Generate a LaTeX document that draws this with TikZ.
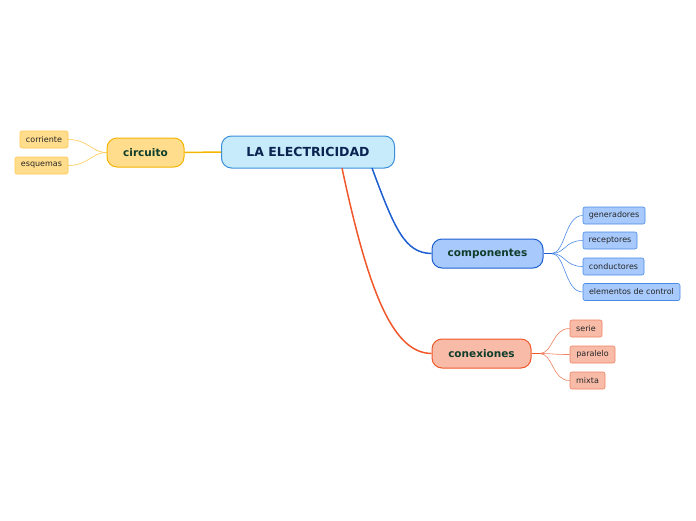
\documentclass[tikz,border=0pt]{standalone}
\usepackage{fontspec}
\setmainfont{DejaVu Sans}
\definecolor{rootF}{HTML}{C7EBFB}\definecolor{rootB}{HTML}{3B8FD9}\definecolor{rootT}{HTML}{0B2350}
\definecolor{yF}{HTML}{FFDD8C}\definecolor{yB}{HTML}{F5B400}\definecolor{yL}{HTML}{FFC850}
\definecolor{bF}{HTML}{A7C9FC}\definecolor{bB}{HTML}{1D5FD0}\definecolor{bL}{HTML}{4A8AE8}
\definecolor{oF}{HTML}{F8BBA8}\definecolor{oB}{HTML}{F0572A}\definecolor{oL}{HTML}{F08060}
\definecolor{midT}{HTML}{0F3D2B}
\begin{document}
\begin{tikzpicture}[x=1pt,y=-1pt,
 rootbox/.style={draw=rootB,fill=rootF,line width=1pt,rounded corners=10pt,minimum width=173pt,minimum height=32pt,inner sep=0pt,text=rootT,font=\fontsize{12.5}{14}\selectfont\bfseries},
 midbox/.style={line width=1pt,rounded corners=10pt,minimum height=29pt,inner sep=0pt,text=midT,font=\fontsize{10.5}{12}\selectfont\bfseries},
 leafbox/.style={line width=0.6pt,rounded corners=2pt,minimum height=17pt,inner sep=0pt,text=black!85,font=\fontsize{8}{9}\selectfont},
 yleaf/.style={leafbox,draw=yL,fill=yF},
 bleaf/.style={leafbox,draw=bL,fill=bF},
 oleaf/.style={leafbox,draw=oL,fill=oF}]
\useasboundingbox (0,0) rectangle (696,520);
\node[rootbox] (root) at (308,152) {LA ELECTRICIDAD};
\node[midbox,draw=yB,fill=yF,minimum width=77pt] (circ) at (145.5,152.5) {circuito};
\node[midbox,draw=bB,fill=bF,minimum width=111pt] (comp) at (487.5,253.5) {componentes};
\node[midbox,draw=oB,fill=oF,minimum width=99pt] (conx) at (481.5,353.5) {conexiones};
\node[yleaf,minimum width=48pt] (corr) at (44,139.5) {corriente};
\node[yleaf,minimum width=53pt] (esq) at (41.5,165.5) {esquemas};
\node[bleaf,minimum width=62pt] (gen) at (614,215.5) {generadores};
\node[bleaf,minimum width=54pt] (rec) at (610,240.5) {receptores};
\node[bleaf,minimum width=61pt] (cond) at (613.5,266.5) {conductores};
\node[bleaf,minimum width=97pt] (elem) at (631.5,292) {elementos de control};
\node[oleaf,minimum width=32pt] (ser) at (586,328.5) {serie};
\node[oleaf,minimum width=45pt] (par) at (592.5,354.5) {paralelo};
\node[oleaf,minimum width=35pt] (mix) at (587.5,380.5) {mixta};
% main branches
\draw[yB,line width=1.5pt] (root.west) -- (circ.east);
\draw[bB,line width=1.5pt] (372,168) .. controls (395,230) and (405,253) .. (comp.west);
\draw[oB,line width=1.5pt] (342,168) .. controls (370,300) and (395,353) .. (conx.west);
% leaves
\foreach \n in {corr,esq}
 \draw[yL,line width=0.6pt] (circ.west) .. controls ([xshift=-15pt]circ.west) and ([xshift=20pt]\n.east) .. (\n.east);
\foreach \n in {gen,rec,cond,elem}
 \draw[bL,line width=0.6pt] ([xshift=8pt]comp.east) .. controls ([xshift=22pt]comp.east) and ([xshift=-18pt]\n.west) .. (\n.west);
\draw[bB,line width=1pt] (comp.east) -- ([xshift=8pt]comp.east);
\foreach \n in {ser,par,mix}
 \draw[oL,line width=0.6pt] ([xshift=8pt]conx.east) .. controls ([xshift=22pt]conx.east) and ([xshift=-18pt]\n.west) .. (\n.west);
\draw[oB,line width=1pt] (conx.east) -- ([xshift=8pt]conx.east);
\end{tikzpicture}
\end{document}
